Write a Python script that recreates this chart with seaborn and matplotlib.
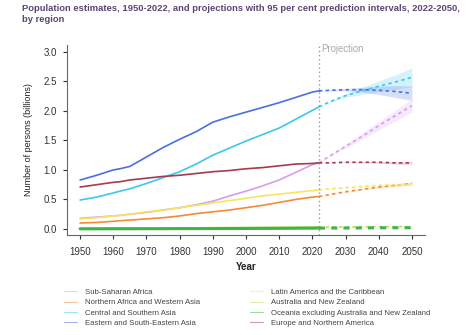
import numpy as np
import pandas as pd
import matplotlib
matplotlib.use("Agg")
import matplotlib.pyplot as plt
import seaborn as sns
from matplotlib.lines import Line2D

regions = ["Sub-Saharan Africa", "Northern Africa and Western Asia",
           "Central and Southern Asia", "Eastern and South-Eastern Asia",
           "Latin America and the Caribbean", "Australia and New Zealand",
           "Oceania excluding Australia and New Zealand", "Europe and Northern America"]
colors = ["#d69cf0", "#f5893a", "#3cc7ee", "#4a6fe0",
          "#f5e65e", "#b9e04a", "#3db54a", "#a63a4e"]

years_est = [1950, 1955, 1960, 1962, 1965, 1970, 1975, 1980, 1985, 1990, 1995, 2000, 2005, 2010, 2015, 2020, 2022]
est = {
    "Sub-Saharan Africa":              [0.18, 0.20, 0.22, 0.23, 0.25, 0.28, 0.32, 0.36, 0.41, 0.47, 0.56, 0.64, 0.73, 0.83, 0.96, 1.09, 1.12],
    "Northern Africa and Western Asia":[0.10, 0.11, 0.13, 0.14, 0.15, 0.17, 0.19, 0.22, 0.26, 0.29, 0.32, 0.36, 0.40, 0.45, 0.50, 0.54, 0.55],
    "Central and Southern Asia":       [0.49, 0.54, 0.61, 0.64, 0.68, 0.77, 0.87, 0.97, 1.10, 1.25, 1.37, 1.49, 1.60, 1.71, 1.86, 2.01, 2.07],
    "Eastern and South-Eastern Asia":  [0.83, 0.91, 1.00, 1.02, 1.06, 1.22, 1.38, 1.52, 1.65, 1.81, 1.90, 1.98, 2.06, 2.14, 2.23, 2.32, 2.34],
    "Latin America and the Caribbean": [0.17, 0.19, 0.22, 0.23, 0.25, 0.29, 0.32, 0.36, 0.40, 0.44, 0.48, 0.52, 0.56, 0.59, 0.62, 0.65, 0.66],
    "Australia and New Zealand":       [0.010, 0.011, 0.012, 0.013, 0.014, 0.015, 0.017, 0.018, 0.019, 0.020, 0.022, 0.023, 0.025, 0.027, 0.029, 0.031, 0.032],
    "Oceania excluding Australia and New Zealand": [0.002, 0.002, 0.003, 0.003, 0.003, 0.004, 0.004, 0.005, 0.005, 0.006, 0.007, 0.008, 0.009, 0.010, 0.012, 0.013, 0.014],
    "Europe and Northern America":     [0.71, 0.75, 0.79, 0.80, 0.83, 0.86, 0.89, 0.91, 0.94, 0.97, 0.99, 1.02, 1.04, 1.07, 1.10, 1.11, 1.12],
}

years_proj = [2022, 2025, 2030, 2035, 2040, 2045, 2050]
proj = {
    "Sub-Saharan Africa":              [1.12, 1.23, 1.40, 1.57, 1.75, 1.92, 2.09],
    "Northern Africa and Western Asia":[0.55, 0.58, 0.63, 0.67, 0.71, 0.74, 0.77],
    "Central and Southern Asia":       [2.07, 2.15, 2.26, 2.34, 2.42, 2.49, 2.57],
    "Eastern and South-Eastern Asia":  [2.34, 2.35, 2.36, 2.36, 2.35, 2.33, 2.30],
    "Latin America and the Caribbean": [0.66, 0.68, 0.70, 0.72, 0.74, 0.75, 0.75],
    "Australia and New Zealand":       [0.032, 0.033, 0.035, 0.036, 0.038, 0.039, 0.040],
    "Oceania excluding Australia and New Zealand": [0.014, 0.015, 0.016, 0.017, 0.019, 0.020, 0.021],
    "Europe and Northern America":     [1.12, 1.12, 1.13, 1.13, 1.13, 1.12, 1.12],
}
# half-width of 95% prediction interval
halfw = {
    "Sub-Saharan Africa":              [0.0, 0.01, 0.03, 0.05, 0.07, 0.09, 0.11],
    "Northern Africa and Western Asia":[0.0, 0.003, 0.006, 0.01, 0.015, 0.02, 0.025],
    "Central and Southern Asia":       [0.0, 0.01, 0.03, 0.06, 0.09, 0.12, 0.16],
    "Eastern and South-Eastern Asia":  [0.0, 0.01, 0.02, 0.04, 0.07, 0.10, 0.12],
    "Latin America and the Caribbean": [0.0, 0.003, 0.006, 0.01, 0.015, 0.02, 0.025],
    "Australia and New Zealand":       [0.0, 0.0, 0.001, 0.001, 0.002, 0.002, 0.003],
    "Oceania excluding Australia and New Zealand": [0.0, 0.0, 0.0, 0.001, 0.001, 0.001, 0.002],
    "Europe and Northern America":     [0.0, 0.003, 0.006, 0.01, 0.015, 0.02, 0.025],
}

sns.set_style("white")
plt.rcParams['font.family'] = ['Liberation Sans', 'DejaVu Sans']

fig = plt.figure(figsize=(4.74, 3.35), dpi=100)
ax = fig.add_axes([0.141, 0.299, 0.756, 0.567])

for reg, col in zip(regions, colors):
    lw = 2.2 if reg.startswith("Oceania") else 1.2
    df_e = pd.DataFrame({"Year": years_est, "Pop": est[reg]})
    sns.lineplot(data=df_e, x="Year", y="Pop", color=col, lw=lw, ax=ax, legend=False)
    df_p = pd.DataFrame({"Year": years_proj, "Pop": proj[reg]})
    lo = np.array(proj[reg]) - np.array(halfw[reg])
    hi = np.array(proj[reg]) + np.array(halfw[reg])
    ax.fill_between(years_proj, lo, hi, color=col, alpha=0.22, lw=0)
    sns.lineplot(data=df_p, x="Year", y="Pop", color=col, lw=lw, ax=ax, legend=False,
                 linestyle=(0, (2, 2)))

ax.axvline(2022, color="#999999", lw=1.0, linestyle=(0, (1, 2)), ymin=0, ymax=1)
ax.text(2022.6, 3.05, "Projection", color="#aaaaaa", fontsize=6.9, va="center", ha="left")

ax.set_xlim(1946, 2054)
ax.set_ylim(-0.1, 3.12)
ax.set_xticks(range(1950, 2051, 10))
ax.set_yticks([0.0, 0.5, 1.0, 1.5, 2.0, 2.5, 3.0])
ax.set_yticklabels(["0.0", "0.5", "1.0", "1.5", "2.0", "2.5", "3.0"])
ax.tick_params(axis="both", labelsize=7.0, colors="#333333", length=3, width=0.8,
               direction="out", bottom=True, left=True, pad=2)
ax.tick_params(axis="x", pad=6)
ax.tick_params(axis="y", pad=4)
for s in ["top", "right"]:
    ax.spines[s].set_visible(False)
for s in ["left", "bottom"]:
    ax.spines[s].set_color("#666666")
    ax.spines[s].set_linewidth(0.8)
ax.set_xlabel("Year", fontsize=7.0, fontweight="bold", color="#222222", labelpad=3)
ax.set_ylabel("Number of persons (billions)", fontsize=6.5, color="#222222", labelpad=8)

fig.text(0.046, 0.988, "Population estimates, 1950-2022, and projections with 95 per cent prediction intervals, 2022-2050,\nby region",
         fontsize=6.75, fontweight="bold", color="#5b4672", va="top", ha="left", linespacing=1.25)

handles = [Line2D([0], [0], color=c, lw=0.8, alpha=0.5) for c in colors]
leg = fig.legend(handles, regions, loc="upper left", bbox_to_anchor=(0.128, 0.148),
                 ncol=2, frameon=False, fontsize=5.6, handlelength=1.7, handletextpad=1.0,
                 columnspacing=6.4, labelspacing=0.38, borderaxespad=0)
for t in leg.get_texts():
    t.set_color("#444444")

fig.savefig("out.png", dpi=100)
